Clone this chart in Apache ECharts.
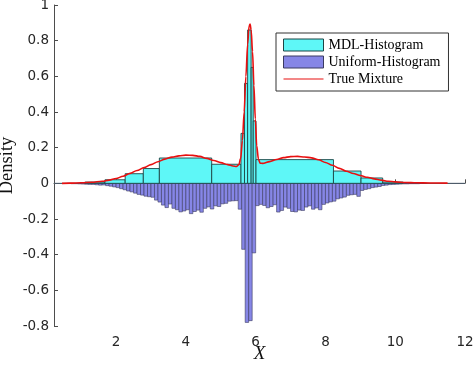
<!DOCTYPE html>
<html>
<head>
<meta charset="utf-8">
<script src="https://cdn.jsdelivr.net/npm/echarts@6/dist/echarts.min.js"></script>
<style>html,body{margin:0;padding:0;background:#fff}#c{width:474px;height:370px}</style>
</head>
<body>
<div id="c"></div>
<script>
// MDL histogram: variable-width bins [left, right, density]
const mdlLeft  = [1.11, 1.68, 2.26, 2.78, 3.24, 4.74, 5.58, 5.68, 5.77, 5.87, 5.93, 6.01, 8.23, 9.02, 9.64];
const mdlRight = [1.68, 2.26, 2.78, 3.24, 4.74, 5.58, 5.68, 5.77, 5.87, 5.93, 6.01, 8.23, 9.02, 9.64, 10.23];
const mdlHeight= [0.007, 0.02, 0.054, 0.083, 0.142, 0.107, 0.28, 0.56, 0.86, 0.65, 0.35, 0.133, 0.069, 0.03, 0.007];

// Uniform histogram (drawn negative): bins of equal width starting at uniformStart
const uniformStart = 0.6;
const uniformWidth = 0.1;
const uniformValues = [
 -0.001,-0.002,-0.002,-0.003,-0.004,-0.005,-0.006,-0.006,-0.008,-0.010,
 -0.009,-0.013,-0.016,-0.020,-0.024,-0.030,-0.036,-0.043,-0.048,-0.055,
 -0.062,-0.066,-0.072,-0.075,-0.078,-0.094,-0.105,-0.122,-0.136,-0.116,
 -0.140,-0.148,-0.160,-0.155,-0.148,-0.170,-0.158,-0.150,-0.162,-0.140,
 -0.132,-0.144,-0.126,-0.130,-0.115,-0.112,-0.100,-0.098,-0.097,-0.145,
 -0.370,-0.780,-0.770,-0.390,-0.125,-0.118,-0.124,-0.137,-0.130,-0.120,
 -0.161,-0.152,-0.133,-0.140,-0.158,-0.160,-0.150,-0.152,-0.133,-0.126,
 -0.145,-0.138,-0.148,-0.118,-0.110,-0.104,-0.100,-0.087,-0.082,-0.077,
 -0.067,-0.064,-0.062,-0.073,-0.040,-0.034,-0.030,-0.024,-0.021,-0.018,
 -0.012,-0.010,-0.007,-0.006,-0.005,-0.004,-0.003,-0.003,-0.002,-0.002,
 -0.002,-0.001,-0.001
];

// True mixture density curve
const mixX = [0.45,0.7,1.0,1.3,1.6,1.8,2.0,2.2,2.4,2.6,2.8,3.0,3.2,3.4,3.6,3.8,4.0,4.2,4.4,4.6,4.8,5.0,5.2,5.35,5.45,5.52,5.57,5.62,5.67,5.72,5.77,5.81,5.84,5.87,5.91,5.95,5.99,6.03,6.08,6.13,6.2,6.4,6.6,6.8,7.0,7.2,7.4,7.6,7.8,8.0,8.2,8.4,8.6,8.8,9.0,9.2,9.4,9.6,9.8,10.0,10.3,10.6,11.0,11.5];
const mixY = [0.000,0.001,0.003,0.006,0.012,0.018,0.027,0.040,0.056,0.072,0.088,0.105,0.121,0.136,0.147,0.154,0.158,0.157,0.151,0.140,0.128,0.116,0.105,0.097,0.094,0.105,0.14,0.24,0.40,0.60,0.78,0.88,0.893,0.86,0.74,0.55,0.36,0.21,0.135,0.113,0.112,0.122,0.134,0.144,0.150,0.151,0.148,0.143,0.132,0.117,0.101,0.084,0.068,0.055,0.044,0.034,0.025,0.018,0.012,0.008,0.005,0.003,0.002,0.001];

const xTicks = [2, 4, 6, 8, 10, 12];
const xMin = 0.22, xMax = 12;

const MDL_FILL = '#5ef7f7', MDL_EDGE = '#1d4545';
const UNI_FILL = '#8686e6', UNI_EDGE = '#3a3a60';
const RED = '#e81010';

const mdlData = mdlLeft.map((l, i) => [l, mdlRight[i], mdlHeight[i]]);
const uniData = uniformValues.map((v, i) => {
  const l = +(uniformStart + i * uniformWidth).toFixed(4);
  return [l, +(l + uniformWidth).toFixed(4), v];
});
const mixData = mixX.map((x, i) => [x, mixY[i]]);

function rectRender(fill, stroke, lw) {
  return function (params, api) {
    const p0 = api.coord([api.value(0), 0]);
    const p1 = api.coord([api.value(1), api.value(2)]);
    return {
      type: 'rect',
      shape: { x: p0[0], y: Math.min(p0[1], p1[1]), width: p1[0] - p0[0], height: Math.abs(p1[1] - p0[1]) },
      style: { fill: fill, stroke: stroke, lineWidth: lw }
    };
  };
}

const chart = echarts.init(document.getElementById('c'), null, { renderer: 'canvas' });
chart.setOption({
  animation: false,
  backgroundColor: '#ffffff',
  grid: { left: 54, right: 9, top: 5, bottom: 44, containLabel: false, outerBoundsMode: 'none' },
  xAxis: {
    type: 'value', min: xMin, max: xMax,
    name: 'X', nameLocation: 'middle', nameGap: 18, nameMoveOverlap: false,
    nameTextStyle: { fontFamily: 'Liberation Serif', fontStyle: 'italic', fontSize: 19, color: '#111' },
    axisLine: { show: true, lineStyle: { color: '#4d4d4d', width: 1 } },
    axisTick: { show: true, inside: true, length: 4, customValues: xTicks, lineStyle: { color: '#4d4d4d' } },
    axisLabel: { customValues: xTicks, margin: 9, fontFamily: 'DejaVu Sans', fontSize: 13.5, color: '#262626' },
    splitLine: { show: false }
  },
  yAxis: {
    type: 'value', min: -0.8, max: 1, interval: 0.2,
    name: 'Density', nameLocation: 'middle', nameGap: 37.5, nameMoveOverlap: false,
    nameTextStyle: { fontFamily: 'Liberation Serif', fontSize: 18.5, color: '#111' },
    axisLine: { show: true, lineStyle: { color: '#4d4d4d', width: 1 } },
    axisTick: { show: true, inside: true, length: 4, lineStyle: { color: '#4d4d4d' } },
    axisLabel: { margin: 5, fontFamily: 'DejaVu Sans', fontSize: 13.5, color: '#262626' },
    splitLine: { show: false }
  },
  legend: {
    orient: 'vertical', left: 276, top: 33,
    backgroundColor: '#fff', borderColor: '#333', borderWidth: 1, borderRadius: 0,
    padding: [5, 8, 5, 7], itemGap: 3, itemWidth: 40, itemHeight: 12,
    textStyle: { fontFamily: 'Liberation Serif', fontSize: 14, color: '#000' },
    data: [
      { name: 'MDL-Histogram', icon: 'rect', itemStyle: { color: MDL_FILL, borderColor: MDL_EDGE, borderWidth: 1 } },
      { name: 'Uniform-Histogram', icon: 'rect', itemStyle: { color: UNI_FILL, borderColor: UNI_EDGE, borderWidth: 1 } },
      { name: 'True Mixture', icon: 'path://M0,5.4 L40,5.4 L40,6.6 L0,6.6 Z', itemStyle: { color: RED, borderWidth: 0 } }
    ]
  },
  series: [
    {
      name: 'baseline', type: 'line', z: 1, silent: true,
      data: [[xMin, 0], [xMax, 0]], showSymbol: false, symbol: 'none',
      lineStyle: { color: '#4f6070', width: 1 }
    },
    {
      name: 'Uniform-Histogram', type: 'custom', z: 2,
      renderItem: rectRender(UNI_FILL, UNI_EDGE, 0.6),
      encode: { x: [0, 1], y: 2 },
      itemStyle: { color: UNI_FILL, borderColor: UNI_EDGE },
      data: uniData
    },
    {
      name: 'MDL-Histogram', type: 'custom', z: 3,
      renderItem: rectRender(MDL_FILL, MDL_EDGE, 0.9),
      encode: { x: [0, 1], y: 2 },
      itemStyle: { color: MDL_FILL, borderColor: MDL_EDGE },
      data: mdlData
    },
    {
      name: 'True Mixture', type: 'line', z: 5,
      data: mixData, showSymbol: false, symbol: 'none',
      smooth: 0.3, smoothMonotone: 'x',
      lineStyle: { color: RED, width: 1.6 },
      itemStyle: { color: RED }
    }
  ]
});
</script>
</body>
</html>
